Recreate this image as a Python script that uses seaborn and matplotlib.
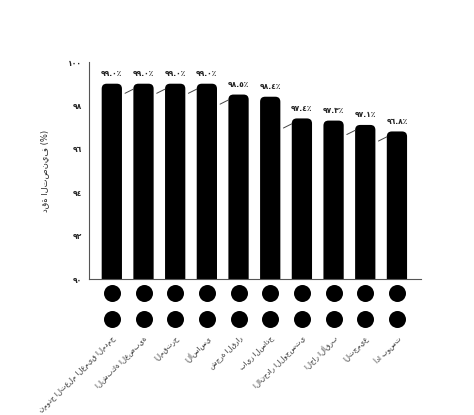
import numpy as np
import pandas as pd
import matplotlib
matplotlib.use('Agg')
import matplotlib.pyplot as plt
from matplotlib.patches import FancyBboxPatch
from matplotlib.ticker import FuncFormatter
import seaborn as sns

# chart values
methods = [
    "نموذج التعلم العميق المدمج",
    "الشبكة العصبية",
    "المقترح",
    "الأساسي",
    "شجرة القرار",
    "بايز الساذج",
    "الانحدار اللوجستي",
    "الجار الأقرب",
    "التجميع",
    "أدا بوست",
]
accuracy = [99.0, 99.0, 99.0, 99.0, 98.5, 98.4, 97.4, 97.3, 97.1, 96.8]
leader = [False, True, True, True, True, False, True, False, True, True]
matrix_rows = [1, 0]
y_ticks = [90, 92, 94, 96, 98, 100]
y_label = "دقة التصنيف (%)"

AR = str.maketrans('0123456789', '٠١٢٣٤٥٦٧٨٩')

sns.set_style('white')
plt.rcParams['font.family'] = ['DejaVu Sans']

df = pd.DataFrame({'method': methods, 'acc': accuracy})

fig = plt.figure(figsize=(4.74, 4.15), dpi=100)
ax = fig.add_axes([0.1878, 0.3277, 0.7004, 0.5229])
ax_dot = fig.add_axes([0.1878, 0.2, 0.7004, 0.1205], sharex=ax)

sns.barplot(data=df, x='method', y='acc', color='black', width=0.64, ax=ax,
            saturation=1)
ax.set_xlim(-0.72, 9.76)
ax.set_ylim(90, 100)
ax.set_yticks(y_ticks)
ax.yaxis.set_major_formatter(FuncFormatter(lambda v, p: f"{int(v)}".translate(AR)))
ax.tick_params(axis='y', labelsize=5.5, length=3, width=0.6, color='#555', pad=2)
for t in ax.get_yticklabels():
    t.set_fontweight('bold')
ax.tick_params(axis='x', bottom=False, labelbottom=False)
ax.set_xlabel('')
ax.set_ylabel(y_label, fontsize=6, labelpad=14)
for s in ['top', 'right']:
    ax.spines[s].set_visible(False)
for s in ['left', 'bottom']:
    ax.spines[s].set_color('#555')
    ax.spines[s].set_linewidth(0.8)

# swap plain bars for round-topped ones (bottom hidden below the axis)
fig.canvas.draw()
p0 = ax.transData.transform((0, 90))
p1 = ax.transData.transform((1, 91))
asp = (p1[0] - p0[0]) / (p1[1] - p0[1])
bars = list(ax.patches)
for b in bars:
    x, w, h = b.get_x(), b.get_width(), b.get_height()
    b.remove()
    fb = FancyBboxPatch((x, 89), w, h - 89, boxstyle="round,pad=0,rounding_size=0.16",
                        mutation_aspect=asp, fc='black', ec='none')
    ax.add_patch(fb)

for i, (v, ld) in enumerate(zip(accuracy, leader)):
    ax.annotate(f"{v:.1f}".translate(AR) + "٪", (i, v), xytext=(0, 4),
                textcoords='offset points', ha='center', va='bottom',
                fontsize=5.5, fontweight='bold')
    if ld:
        ax.annotate('', (i - 0.32, v - 0.25), xytext=(-6, -3), textcoords='offset points',
                    arrowprops=dict(arrowstyle='-', color='#444', lw=0.7,
                                    shrinkA=0, shrinkB=0))

# dot matrix under the bars
for r in matrix_rows:
    ax_dot.scatter(range(len(methods)), [r] * len(methods), s=150, color='black',
                   linewidths=0)
ax_dot.set_ylim(-0.5, 1.42)
ax_dot.set_yticks([])
ax_dot.set_xticks(range(len(methods)))
ax_dot.set_xticklabels(methods, rotation=45, ha='right', rotation_mode='anchor',
                       fontsize=5)
ax_dot.tick_params(axis='x', length=0, pad=2)
for s in ax_dot.spines.values():
    s.set_visible(False)

fig.savefig('out.png', dpi=100)
